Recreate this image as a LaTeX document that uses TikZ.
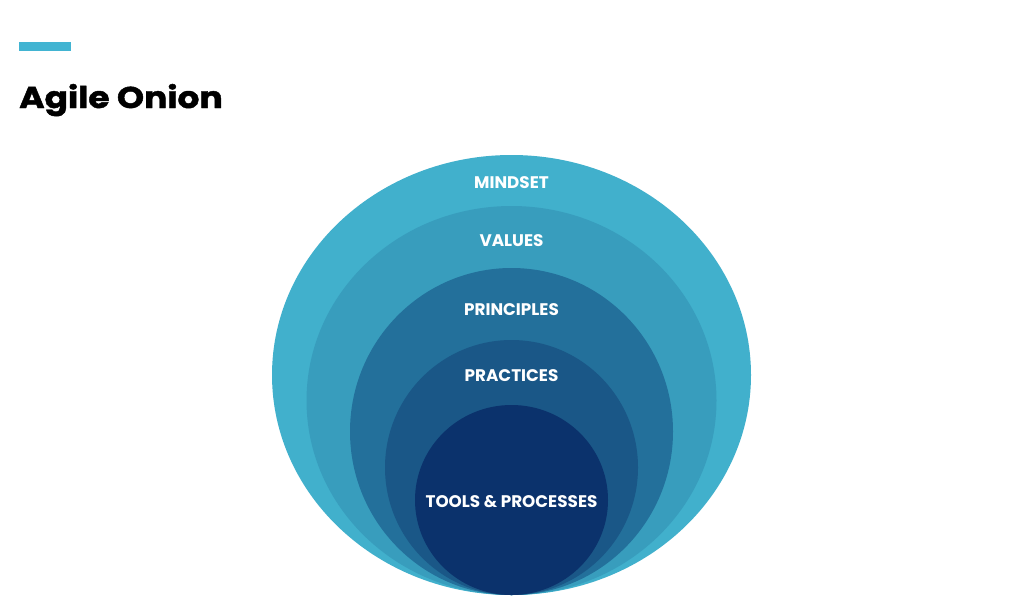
\documentclass[tikz,border=0pt]{standalone}
\usepackage{fontspec}
\setmainfont{Poppins}
\newfontfamily\titlefont[FakeStretch=1.15,FakeBold=1.5]{Poppins}
\definecolor{barblue}{HTML}{42B4D2}
\definecolor{layerA}{HTML}{41B0CC}
\definecolor{layerB}{HTML}{389DBD}
\definecolor{layerC}{HTML}{23709B}
\definecolor{layerD}{HTML}{1A5787}
\definecolor{layerE}{HTML}{0B326C}
\tikzset{
  lbl/.style={text=white, font=\fontsize{16.8}{20}\selectfont\bfseries, inner sep=0pt, anchor=base},
}
\begin{document}
\begin{tikzpicture}[x=1pt,y=-1pt]
\useasboundingbox (0,0) rectangle (1024,613);
\fill[white] (0,0) rectangle (1024,613);
\fill[barblue] (19,42) rectangle (71,51);
\node[anchor=base west, inner sep=0pt, font=\titlefont\fontsize{30}{34}\selectfont\bfseries] (title) at (19,108) {Agile Onion};
\fill[layerA] (511.5,375) ellipse [x radius=239.5, y radius=220];
\fill[layerB] (511.5,400.5) ellipse [x radius=205, y radius=194.5];
\fill[layerC] (511.5,431.5) ellipse [x radius=161.5, y radius=163.5];
\fill[layerD] (511.5,467.5) ellipse [x radius=126.5, y radius=127.5];
\fill[layerE] (511.5,500) ellipse [x radius=96.5, y radius=95];
\node[lbl] (mindset) at (511.5,188) {MINDSET};
\node[lbl] (values) at (511.5,246) {VALUES};
\node[lbl] (principles) at (511.5,315) {PRINCIPLES};
\node[lbl] (practices) at (511.5,381) {PRACTICES};
\node[lbl] (tools) at (511.5,507) {TOOLS \& PROCESSES};
\end{tikzpicture}
\end{document}
